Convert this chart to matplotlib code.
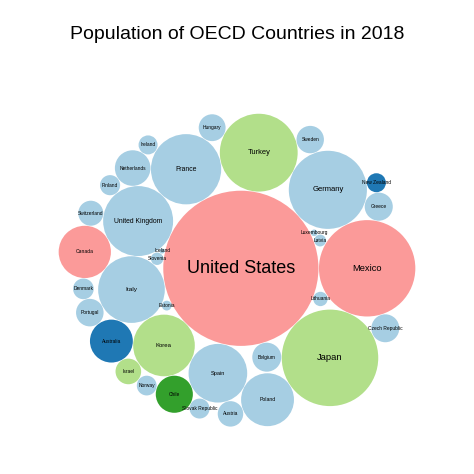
import numpy as np
import matplotlib
matplotlib.use("Agg")
import matplotlib.pyplot as plt
from matplotlib.patches import Circle

plt.rcParams['font.family'] = ['Liberation Sans', 'DejaVu Sans']

countries = ["United States","Mexico","Japan","Germany","Turkey","France","United Kingdom","Italy",
             "Korea","Spain","Poland","Canada","Australia","Chile","Netherlands","Belgium","Greece",
             "Czech Republic","Portugal","Sweden","Hungary","Israel","Austria","Switzerland","Denmark",
             "Finland","Slovak Republic","Norway","Ireland","New Zealand","Lithuania","Slovenia",
             "Latvia","Estonia","Luxembourg","Iceland"]
population = [327.2,126.2,126.5,82.9,82.3,67.0,66.5,60.4,51.6,46.7,38.0,37.1,25.0,18.7,17.2,11.4,10.7,
              10.6,10.3,10.2,9.8,8.9,8.8,8.5,5.8,5.5,5.4,5.3,4.9,4.9,2.8,2.1,1.9,1.3,0.6,0.35]
region = ["Am","Am","As","Eu","As","Eu","Eu","Eu","As","Eu","Eu","Am","Oc","SA","Eu","Eu","Eu",
          "Eu","Eu","Eu","Eu","As","Eu","Eu","Eu","Eu","Eu","Eu","Eu","Oc","Eu","Eu","Eu","Eu","Eu","Eu"]
colors = {"Am":"#fb9a99","Eu":"#a6cee3","As":"#b2df8a","Oc":"#1f78b4","SA":"#33a02c"}

r = np.sqrt(np.array(population))
gap = 0.12
placed = []
def ok(x,y,rr):
    for (px,py,pr) in placed:
        if np.hypot(x-px,y-py) < pr+rr+gap-1e-6: return False
    return True
for i,rr in enumerate(r):
    if i==0: placed.append((0,0,rr)); continue
    if i==1: placed.append((r[0]+rr+gap,0,rr)); continue
    best=None
    for a in range(len(placed)):
        for b in range(a+1,len(placed)):
            x1,y1,r1=placed[a]; x2,y2,r2=placed[b]
            ra=r1+rr+gap; rb=r2+rr+gap
            d=np.hypot(x2-x1,y2-y1)
            if d>ra+rb or d<abs(ra-rb) or d==0: continue
            l=(ra**2-rb**2+d**2)/(2*d); h=np.sqrt(max(ra**2-l**2,0))
            mx=x1+l*(x2-x1)/d; my=y1+l*(y2-y1)/d
            for s in (1,-1):
                x=mx+s*h*(y2-y1)/d; y=my-s*h*(x2-x1)/d
                if ok(x,y,rr):
                    dist=np.hypot(x*0.9,y)
                    if best is None or dist<best[0]: best=(dist,x,y)
    placed.append((best[1],best[2],rr))

fig=plt.figure(figsize=(4.74,4.74),dpi=100)
ax=fig.add_axes([0.12,0.04,0.76,0.78])
for (x,y,rr),name,reg in zip(placed,countries,region):
    ax.add_patch(Circle((x,y),rr,color=colors[reg],lw=0))
    fs=max(3.5,min(9,rr*0.6))
    if name=="United States": fs=13
    ax.text(x,y,name,ha="center",va="center",fontsize=fs,color="black")
xs=[p[0] for p in placed]; ys=[p[1] for p in placed]; rs=[p[2] for p in placed]
xmin=min(a-c for a,c in zip(xs,rs)); xmax=max(a+c for a,c in zip(xs,rs))
ymin=min(a-c for a,c in zip(ys,rs)); ymax=max(a+c for a,c in zip(ys,rs))
cx=(xmin+xmax)/2; cy=(ymin+ymax)/2; half=max(xmax-xmin,ymax-ymin)/2*1.01
ax.set_xlim(cx-half,cx+half); ax.set_ylim(cy-half,cy+half)
ax.set_aspect("equal"); ax.axis("off")
fig.suptitle("Population of OECD Countries in 2018",fontsize=14,y=0.945)
fig.savefig("out.png",dpi=100,facecolor="white")
